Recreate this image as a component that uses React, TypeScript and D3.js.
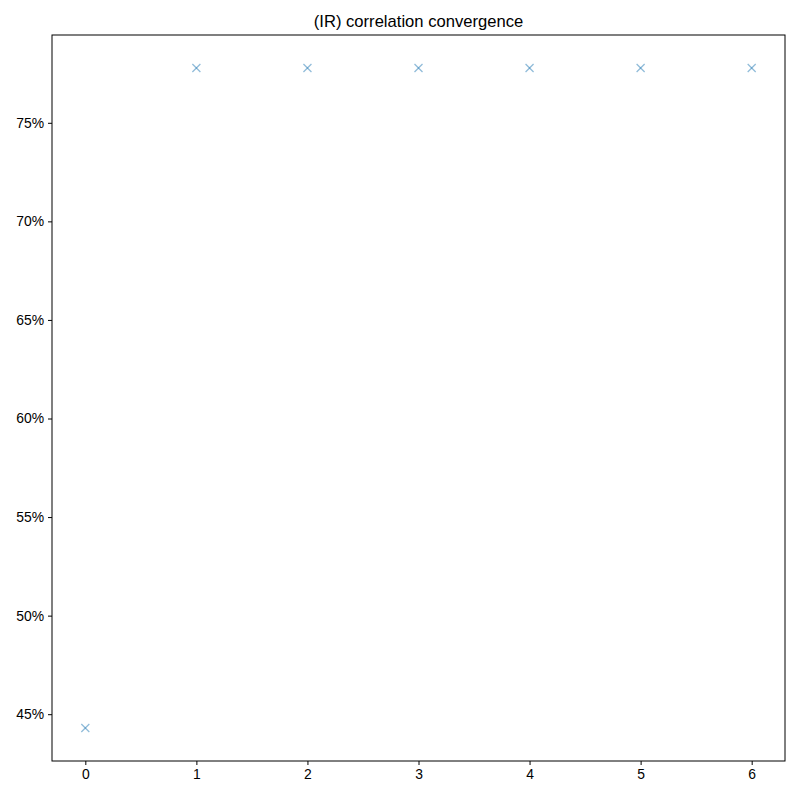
import React, { useRef, useEffect } from 'react';
import * as d3 from 'd3';

const iterations: number[] = [0, 1, 2, 3, 4, 5, 6];
const correlation: number[] = [0.443, 0.7778, 0.7778, 0.7778, 0.7778, 0.7778, 0.7778];
const yTickValues: number[] = [0.45, 0.5, 0.55, 0.6, 0.65, 0.7, 0.75];
const xTickValues: number[] = [0, 1, 2, 3, 4, 5, 6];

const W = 800;
const H = 800;
const margin = { top: 35, right: 15, bottom: 39, left: 52 };

const App: React.FC = () => {
  const svgRef = useRef<SVGSVGElement | null>(null);

  useEffect(() => {
    const svg = d3.select(svgRef.current!);
    svg.selectAll('*').remove();

    const iw = W - margin.left - margin.right;
    const ih = H - margin.top - margin.bottom;

    const xMin = d3.min(iterations)!;
    const xMax = d3.max(iterations)!;
    const xPad = (xMax - xMin) * 0.05;
    const x = d3.scaleLinear().domain([xMin - xPad, xMax + xPad]).range([0, iw]);

    const yMin = d3.min(correlation)!;
    const yMax = d3.max(correlation)!;
    const yPad = (yMax - yMin) * 0.05;
    const y = d3.scaleLinear().domain([yMin - yPad, yMax + yPad]).range([ih, 0]);

    const g = svg.append('g').attr('transform', `translate(${margin.left},${margin.top})`);

    const xAxis = g.append('g')
      .attr('transform', `translate(0,${ih})`)
      .call(d3.axisBottom(x).tickValues(xTickValues).tickFormat(d3.format('d')).tickSize(4).tickPadding(4));
    const yAxis = g.append('g')
      .call(d3.axisLeft(y).tickValues(yTickValues).tickFormat(d3.format('.0%')).tickSize(4).tickPadding(4));

    [xAxis, yAxis].forEach((a) => {
      a.select('.domain').remove();
      a.selectAll('text')
        .attr('font-family', 'Liberation Sans, Arial, sans-serif')
        .attr('font-size', 13.9)
        .attr('fill', '#000');
      a.selectAll('line').attr('stroke', '#000').attr('stroke-width', 1);
    });

    g.append('rect')
      .attr('width', iw)
      .attr('height', ih)
      .attr('fill', 'none')
      .attr('stroke', '#000')
      .attr('stroke-width', 1);

    const s = 4;
    const marks = g.append('g').selectAll('g')
      .data(iterations.map((it, i) => ({ it, v: correlation[i] })))
      .enter()
      .append('g')
      .attr('transform', (d) => `translate(${x(d.it)},${y(d.v)})`)
      .attr('stroke', 'rgba(31,119,180,0.5)')
      .attr('stroke-width', 1.2);
    marks.append('line').attr('x1', -s).attr('y1', -s).attr('x2', s).attr('y2', s);
    marks.append('line').attr('x1', -s).attr('y1', s).attr('x2', s).attr('y2', -s);

    svg.append('text')
      .attr('x', margin.left + iw / 2)
      .attr('y', 27)
      .attr('text-anchor', 'middle')
      .attr('font-family', 'Liberation Sans, Arial, sans-serif')
      .attr('font-size', 16.6)
      .attr('fill', '#000')
      .text('(IR) correlation convergence');
  }, []);

  return (
    <svg
      ref={svgRef}
      width={W}
      height={H}
      style={{ position: 'absolute', left: 0, top: 0, background: '#fff' }}
    ></svg>
  );
};

export default App;
